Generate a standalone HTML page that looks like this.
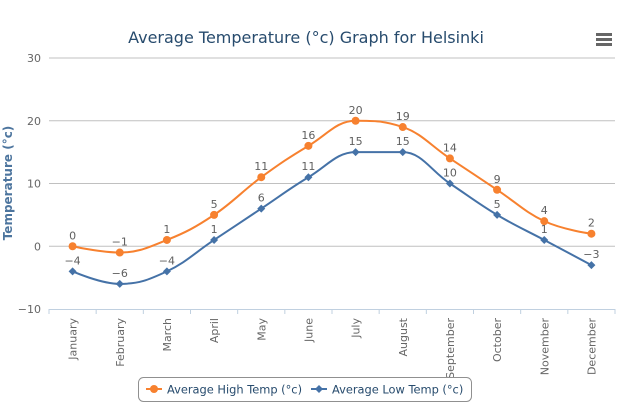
<!DOCTYPE html>
<html><head><meta charset="utf-8"><style>
body{margin:0;background:#fff;}
svg text{font-family:"DejaVu Sans","Liberation Sans",sans-serif;}
</style></head><body>
<svg id="c" width="634" height="415" xmlns="http://www.w3.org/2000/svg">
<rect width="634" height="415" fill="#fff"/>
<text x="306" y="43" text-anchor="middle" font-size="16" fill="#274b6d">Average Temperature (°c) Graph for Helsinki</text>
<g fill="#666">
<rect x="596" y="33" width="16" height="3"/><rect x="596" y="38" width="16" height="3"/><rect x="596" y="43" width="16" height="3"/>
</g>
<text transform="translate(12,183) rotate(-90)" text-anchor="middle" font-size="12" font-weight="bold" fill="#4d759e">Temperature (°c)</text>
<g id="grid"></g><g id="series"></g>
<g>
<rect x="138.5" y="377.5" width="333" height="24" rx="5" fill="#fff" stroke="#909090"/>
<line x1="146" y1="389" x2="162" y2="389" stroke="#f7812f" stroke-width="2"/><circle cx="154" cy="389" r="4" fill="#f7812f"/>
<text x="167" y="393.5" font-size="11.4" fill="#274b6d">Average High Temp (°c)</text>
<line x1="311" y1="389" x2="327" y2="389" stroke="#4572a7" stroke-width="2"/><path d="M319 385 L323 389 L319 393 L315 389Z" fill="#4572a7"/>
<text x="332" y="393.5" font-size="11.4" fill="#274b6d">Average Low Temp (°c)</text>
</g>
</svg>
<script>
const categories=["January","February","March","April","May","June","July","August","September","October","November","December"];
const highValues=[0,-1,1,5,11,16,20,19,14,9,4,2];
const lowValues=[-4,-6,-4,1,6,11,15,15,10,5,1,-3];
const yTicks=[-10,0,10,20,30];
const NS="http://www.w3.org/2000/svg";
const L=49,R=615,T=58,B=309,ymin=-10,ymax=30;
const step=(R-L)/categories.length;
const xs=i=>L+step*(i+0.5);
const ys=v=>B-(v-ymin)/(ymax-ymin)*(B-T);
function mk(tag,at,parent){const e=document.createElementNS(NS,tag);for(const k in at)e.setAttribute(k,at[k]);parent.appendChild(e);return e;}
const grid=document.getElementById('grid'),ser=document.getElementById('series');
yTicks.forEach(t=>{
 if(t!==ymin){const g=mk('line',{x1:L,x2:R,y1:ys(t),y2:ys(t),stroke:'#c0c0c0','stroke-width':1},grid);
 
 }
 const tx=mk('text',{x:L-8,y:ys(t)+4,'text-anchor':'end','font-size':11,fill:'#666'},grid);
 
 
 tx.textContent=t<0?'\u2212'+(-t):t;
});
const ax=mk('line',{x1:L,x2:R,y1:B+0.5,y2:B+0.5,stroke:'#c0d0e0','stroke-width':1},grid);


for(let i=0;i<=categories.length;i++){const tk=mk('line',{x1:L+step*i,x2:L+step*i,y1:B,y2:B+5,stroke:'#c0d0e0'},grid);
 
 }
categories.forEach((c,i)=>{const tx=mk('text',{transform:`translate(${xs(i)+4},${B+9}) rotate(-90)`,'text-anchor':'end','font-size':11,fill:'#666'},grid);
 
 
 tx.textContent=c;});
function spline(pts){const s=1.5,d=s+1;let p=`M${pts[0][0]} ${pts[0][1]}`;
 const ctrl=[];
 for(let i=0;i<pts.length;i++){
  if(i===0||i===pts.length-1){ctrl.push([pts[i],pts[i]]);continue;}
  const [x,y]=pts[i],[lx,ly]=pts[i-1],[nx,ny]=pts[i+1];
  let lcx=(s*x+lx)/d,lcy=(s*y+ly)/d,rcx=(s*x+nx)/d,rcy=(s*y+ny)/d;
  const corr=((rcy-lcy)*(rcx-x))/(rcx-lcx)+y-rcy;lcy+=corr;rcy+=corr;
  if(lcy>ly&&lcy>y){lcy=Math.max(ly,y);rcy=2*y-lcy;}else if(lcy<ly&&lcy<y){lcy=Math.min(ly,y);rcy=2*y-lcy;}
  if(rcy>ny&&rcy>y){rcy=Math.max(ny,y);lcy=2*y-rcy;}else if(rcy<ny&&rcy<y){rcy=Math.min(ny,y);lcy=2*y-rcy;}
  ctrl.push([[lcx,lcy],[rcx,rcy]]);}
 for(let i=1;i<pts.length;i++){const a=ctrl[i-1][1],b=ctrl[i][0];p+=` C${a[0]} ${a[1]} ${b[0]} ${b[1]} ${pts[i][0]} ${pts[i][1]}`;}
 return p;}
function draw(vals,color,name,diamond){
 const pts=vals.map((v,i)=>[xs(i),ys(v)]);
 const pa=mk('path',{d:spline(pts),fill:'none',stroke:color,'stroke-width':2},ser);
 
 
 pts.forEach(([x,y],i)=>{
  let m;
  if(diamond)m=mk('path',{d:`M${x} ${y-4}L${x+4} ${y}L${x} ${y+4}L${x-4} ${y}Z`,fill:color},ser);
  else m=mk('circle',{cx:x,cy:y,r:4,fill:color},ser);
  
  
  const t=mk('text',{x:x,y:y-7,'text-anchor':'middle','font-size':11,fill:'#606060'},ser);
  
  
  t.textContent=vals[i]<0?'\u2212'+(-vals[i]):vals[i];
 });}
draw(highValues,'#f7812f','high-temp',false);
draw(lowValues,'#4572a7','low-temp',true);
</script>
</body></html>
